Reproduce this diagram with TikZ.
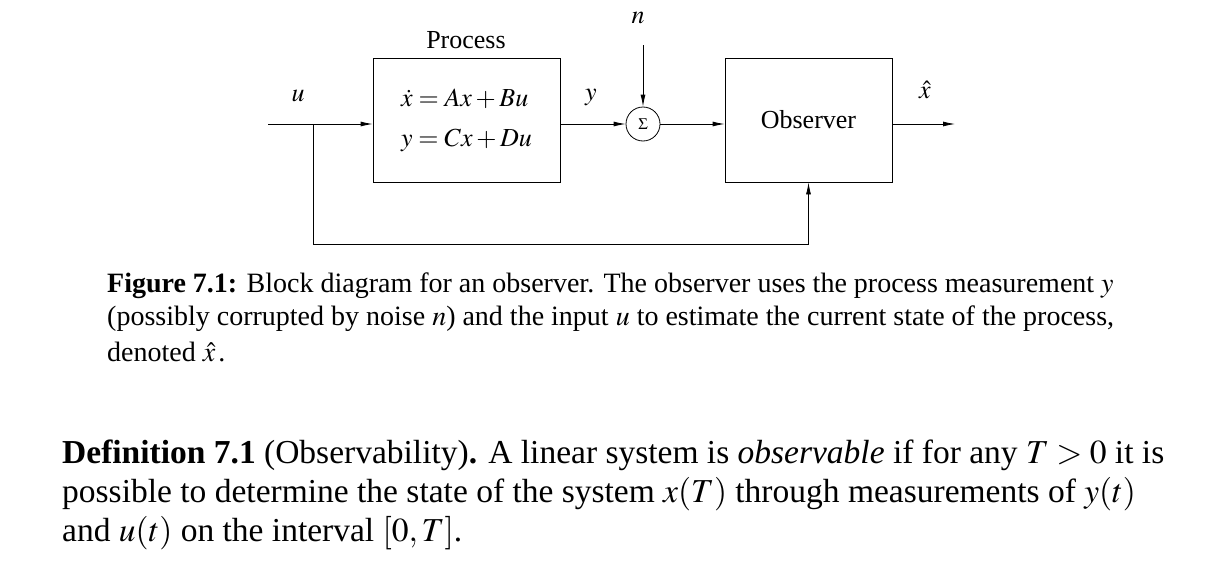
\documentclass[tikz,border=0pt]{standalone}
\usepackage{mathptmx}
\usepackage{fontspec}
\setmainfont{Liberation Serif}
\usetikzlibrary{arrows.meta}
\begin{document}
\begin{tikzpicture}[x=1pt,y=-1pt,
  blk/.style={draw,line width=0.8pt,minimum height=124pt,font=\fontsize{26}{30}\selectfont},
  conn/.style={line width=0.8pt,-{Latex[length=12pt,width=5pt]}},
  lbl/.style={font=\fontsize{26}{30}\selectfont},
  captext/.style={anchor=west,inner sep=0pt,font=\fontsize{28}{32}\selectfont},
  dfn/.style={anchor=west,inner sep=0pt,font=\fontsize{33.5}{38}\selectfont}]
\useasboundingbox (0,0) rectangle (1216,570);
\node[lbl] (ptitle) at (466,40) {Process};
\node[blk,minimum width=187pt,align=left] (proc) at (466.5,120) {$\dot x = Ax + Bu$\\[10pt]$y = Cx + Du$};
\node[blk,minimum width=167pt] (obs) at (808.5,120) {Observer};
\node[draw,circle,line width=0.8pt,minimum size=34pt,inner sep=0pt,font=\fontsize{16}{18}\selectfont] (sum) at (643,124) {$\Sigma$};
\coordinate (uin) at (268,124);
\coordinate (ubr) at (313,124);
\coordinate (nin) at (643,45);
\coordinate (xout) at (955,124);
\node[lbl] at (298,96) {$u$};
\node[lbl] at (591,98) {$y$};
\node[lbl] at (638,18) {$n$};
\node[lbl] at (925,90) {$\hat x$};
\draw[conn] (uin) -- (proc.west |- uin);
\draw[conn] (ubr) -- ++(0,120) -| (obs.south);
\draw[conn] (proc.east |- sum) -- (sum.west);
\draw[conn] (nin) -- (sum.north);
\draw[conn] (sum.east) -- (obs.west |- sum);
\draw[conn] (obs.east |- xout) -- (xout);
\node[captext] (c1) at (107,286) {\textbf{Figure 7.1:} Block diagram for an observer. The observer uses the process measurement $y$};
\node[captext] (c2) at (107,319) {(possibly corrupted by noise $n$) and the input $u$ to estimate the current state of the process,};
\node[captext] (c3) at (107,352) {denoted $\hat x\,$.};
\node[dfn] (d1) at (62,455) {\textbf{Definition 7.1} (Observability)\textbf{.} A linear system is \textit{observable} if for any $T>0$ it is};
\node[dfn] (d2) at (62,494) {possible to determine the state of the system $x(T)$ through measurements of $y(t)$};
\node[dfn] (d3) at (62,533) {and $u(t)$ on the interval $[0,T]$.};
\end{tikzpicture}
\end{document}
